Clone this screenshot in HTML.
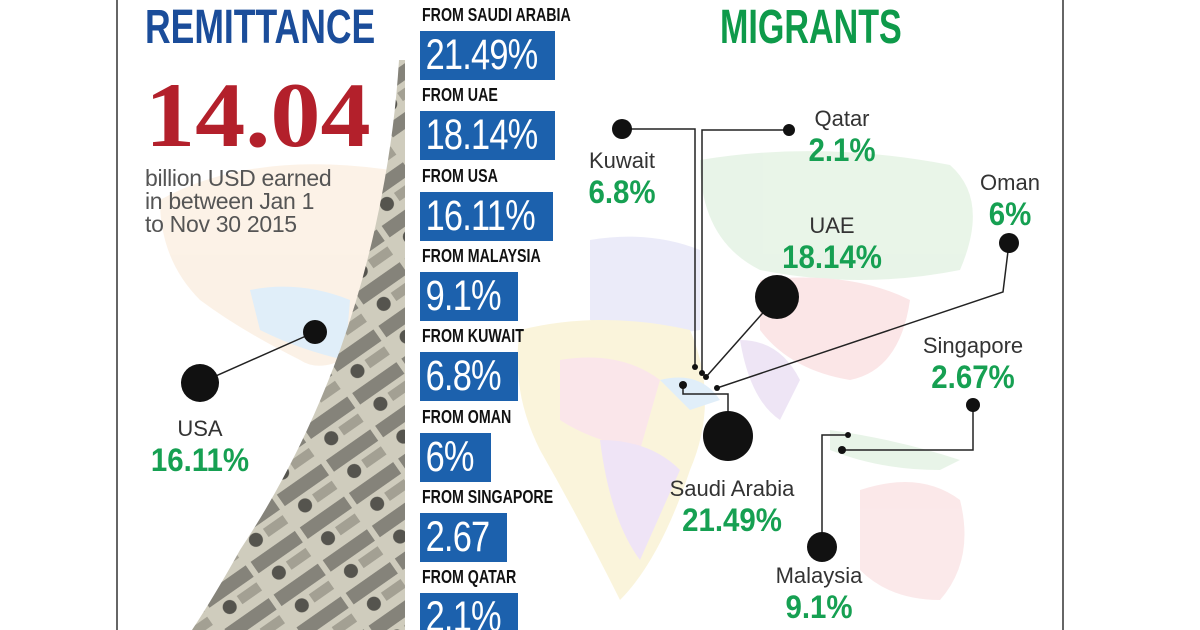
<!DOCTYPE html>
<html><head><meta charset="utf-8">
<style>
html,body{margin:0;padding:0;background:#fff;}
#root{position:relative;width:1200px;height:630px;overflow:hidden;background:#fff;font-family:"Liberation Sans",sans-serif;}
.abs{position:absolute;}
.sq{display:inline-block;transform-origin:0 0;white-space:nowrap;}
.lbl{position:absolute;left:422px;font-weight:bold;font-size:18px;color:#111;white-space:nowrap;transform:scaleX(0.79);transform-origin:0 0;}
.box{position:absolute;left:420px;height:49px;background:#1c61ad;color:#fff;font-size:43px;line-height:49px;white-space:nowrap;overflow:hidden;}
.box span{display:inline-block;transform:scaleX(0.8);transform-origin:0 0;padding-left:7px;letter-spacing:-1px;}
.name{position:absolute;transform:translateX(-50%);font-size:22px;color:#333;white-space:nowrap;}
.val{position:absolute;transform:translateX(-50%) scaleX(0.92);font-weight:bold;font-size:32px;color:#16a052;white-space:nowrap;}
</style></head><body>
<div id="root">
<svg class="abs" style="left:0;top:0" width="1200" height="630">
  <defs>
    <pattern id="money" width="60" height="40" patternUnits="userSpaceOnUse" patternTransform="rotate(-35)">
      <rect width="60" height="40" fill="#cfccbd"/>
      <rect x="3" y="4" width="54" height="14" fill="#85837a"/>
      <circle cx="20" cy="29" r="7" fill="#55544e"/>
      <rect x="32" y="24" width="24" height="10" fill="#a3a093"/>
    </pattern>
  </defs>
  <line x1="117" y1="0" x2="117" y2="630" stroke="#333" stroke-width="1.5"/>
  <line x1="1063" y1="0" x2="1063" y2="630" stroke="#333" stroke-width="1.5"/>
  <g opacity="0.35">
    <path d="M160 200 Q250 150 390 170 L385 330 Q330 380 300 360 Q240 330 200 300 Q160 260 160 200Z" fill="#f6d9b9"/>
    <path d="M250 290 Q300 280 350 300 L345 360 Q300 350 260 330Z" fill="#a9d1ee"/>
    <path d="M700 160 Q820 140 950 165 Q990 200 960 270 Q860 290 760 270 Q700 240 700 160Z" fill="#bfe1be"/>
    <path d="M590 240 Q650 230 700 250 L700 330 Q640 340 590 320Z" fill="#c7c7ee"/>
    <path d="M520 330 Q600 310 690 330 Q720 400 690 470 Q660 560 620 600 Q580 520 540 450 Q510 390 520 330Z" fill="#f3e29a"/>
    <path d="M560 360 Q620 350 660 380 L640 450 Q590 440 560 420Z" fill="#f2b8c5"/>
    <path d="M600 440 Q650 440 680 470 L640 560 Q610 520 600 440Z" fill="#d4b3e6"/>
    <path d="M760 280 Q850 270 910 300 Q900 370 850 380 Q790 370 760 330Z" fill="#f5b8bd"/>
    <path d="M740 340 Q780 340 800 380 L780 420 Q750 400 740 340Z" fill="#d0b7e4"/>
    <path d="M860 490 Q920 470 960 500 Q975 560 940 600 Q890 600 860 570Z" fill="#f4c0c2"/>
    <path d="M830 430 Q900 440 960 460 L940 470 Q880 470 830 450Z" fill="#bfe1be"/>
    <path d="M660 380 Q700 370 720 400 L690 410Z" fill="#a9d1ee"/>
  </g>
  <path d="M399 60 Q396 110 388 160 Q372 260 340 350 Q300 460 240 550 Q215 595 192 630 L405 630 L405 60Z" fill="url(#money)"/>
  <g id="connectors" stroke="#222" stroke-width="1.5" fill="none"></g>
  <g id="dots" fill="#111"></g>
</svg>

<div class="abs" style="left:145px;top:0px;font-size:48px;font-weight:bold;color:#1b4d9a;"><span class="sq" style="transform:scaleX(0.74)">REMITTANCE</span></div>
<div class="abs" style="left:145px;top:62px;font-family:'Liberation Serif',serif;font-size:92px;font-weight:bold;color:#b3202b;"><span class="sq" style="transform:scaleX(1.09)">14.04</span></div>
<div class="abs" style="left:145px;top:167px;font-size:23px;line-height:23px;color:#555;letter-spacing:-0.3px">billion USD earned<br>in between Jan 1<br>to Nov 30 2015</div>
<div class="abs" style="left:720px;top:0px;font-size:48px;font-weight:bold;color:#0e9a4a;"><span class="sq" style="transform:scaleX(0.71)">MIGRANTS</span></div>

<div id="bars"></div>
<div id="labels"></div>

<script>
// Remittance share by source country (%)
const remitCountries = ["SAUDI ARABIA","UAE","USA","MALAYSIA","KUWAIT","OMAN","SINGAPORE","QATAR"];
const remitValues = ["21.49%","18.14%","16.11%","9.1%","6.8%","6%","2.67","2.1%"];
// Migrant map annotations
const migrantNames = ["Kuwait","Qatar","Oman","UAE","Singapore","Saudi Arabia","Malaysia","USA"];
const migrantValues = ["6.8%","2.1%","6%","18.14%","2.67%","21.49%","9.1%","16.11%"];

const barsEl = document.getElementById('bars');
remitCountries.forEach((c, i) => {
  const y0 = 5 + i * 80.3;
  const l = document.createElement('div');
  l.className = 'lbl';
  l.style.top = y0 + 'px';
  l.textContent = 'FROM ' + c;
  
  
  barsEl.appendChild(l);
  const b = document.createElement('div');
  b.className = 'box';
  b.style.top = (y0 + 26) + 'px';
  const s = document.createElement('span');
  s.textContent = remitValues[i];
  b.appendChild(s);
  
  
  barsEl.appendChild(b);
  b.style.width = Math.round((s.offsetWidth - 7) * 0.8 + 7 + 16) + 'px';
});

// label anchor layout (centre x, name top)
const labelPos = [[622,148],[842,106],[1010,170],[832,213],[973,333],[732,476],[819,563],[200,416]];
const lab = document.getElementById('labels');
migrantNames.forEach((n, i) => {
  const [cx, ty] = labelPos[i];
  const a = document.createElement('div');
  a.className = 'name';
  a.style.left = cx + 'px'; a.style.top = ty + 'px';
  a.textContent = n;
  
  
  lab.appendChild(a);
  const v = document.createElement('div');
  v.className = 'val';
  v.style.left = cx + 'px'; v.style.top = (ty + 26) + 'px';
  v.textContent = migrantValues[i];
  
  
  lab.appendChild(v);
});

const NS = 'http://www.w3.org/2000/svg';
const conn = document.getElementById('connectors');
const paths = [
  "M622 129 H695 V367",
  "M789 130 H702 V373",
  "M777 297 L706 377",
  "M1009 243 L1003 292 L717 388",
  "M728 436 V394 H683 V385",
  "M973 405 V450 H842",
  "M822 547 V435 H848",
  "M200 383 L315 332"
];
paths.forEach((d, i) => {
  const p = document.createElementNS(NS, 'path');
  p.setAttribute('d', d);
  
  
  conn.appendChild(p);
});
const dotsG = document.getElementById('dots');
const dots = [[622,129,10],[789,130,6],[777,297,22],[1009,243,10],[728,436,25],[973,405,7],[822,547,15],[200,383,19],[315,332,12],
  [695,367,3],[702,373,3],[706,377,3],[717,388,3],[683,385,4],[842,450,4],[848,435,3]];
dots.forEach((d, i) => {
  const c = document.createElementNS(NS, 'circle');
  c.setAttribute('cx', d[0]); c.setAttribute('cy', d[1]); c.setAttribute('r', d[2]);
  
  
  dotsG.appendChild(c);
});
</script>
</div>
</body></html>
